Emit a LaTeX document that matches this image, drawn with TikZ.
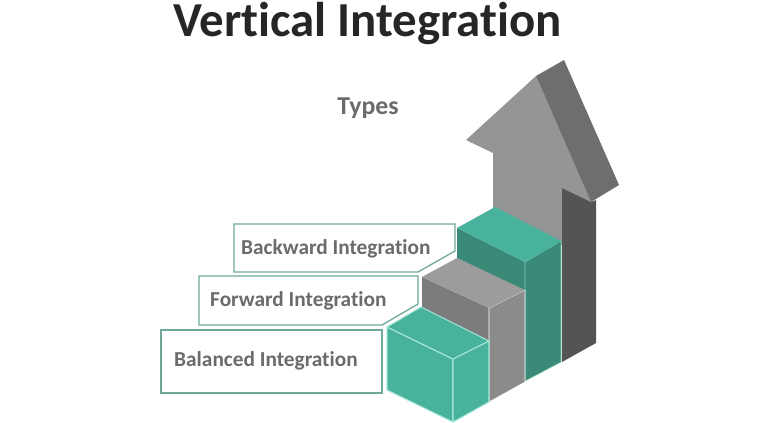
\documentclass[tikz,border=0pt]{standalone}
\usepackage{fontspec}
\setmainfont[Ligatures=NoCommon]{Carlito}
\definecolor{tealtop}{HTML}{48B29C}
\definecolor{tealdark}{HTML}{3A8A78}
\definecolor{tealedge}{HTML}{A5E8D8}
\definecolor{boxedge}{HTML}{6FA89A}
\definecolor{greytop}{HTML}{9C9C9C}
\definecolor{greyleft}{HTML}{7C7C7C}
\definecolor{greyright}{HTML}{8B8B8B}
\definecolor{arrowfront}{HTML}{949696}
\definecolor{arrowside}{HTML}{6E6E6E}
\definecolor{arrowshaft}{HTML}{545454}
\definecolor{labelgrey}{HTML}{6B6B6B}
\tikzset{
    labelbox/.style = {draw=boxedge, fill=white, line width=1.1pt},
    labeltext/.style = {text=labelgrey, font=\bfseries\fontsize{18.2}{20}\selectfont, anchor=west, inner sep=0},
    facet/.style = {draw=white, line width=0.5pt, line join=round}
}
\begin{document}
\begin{tikzpicture}[x=0.03cm, y=-0.03cm]
    \useasboundingbox (0,0) rectangle (768,422);

    \node[font=\bfseries\fontsize{41.7}{44}\selectfont, text=black!85, inner sep=0] (title) at (367.5,24) {Vertical Integration};
    \node[font=\bfseries\fontsize{22}{24}\selectfont, text=labelgrey, inner sep=0] (types) at (368,108) {Types};

    % arrow
    \fill[arrowfront] (536,76) -- (466,140) -- (493,153) -- (493,215) -- (562,245) -- (562,188) -- (591,202) -- cycle;
    \fill[arrowside] (536,76) -- (564,60) -- (619,185) -- (591,202) -- cycle;
    \fill[arrowshaft] (562,188) -- (591,202) -- (596,200) -- (596,343) -- (562,362) -- cycle;

    % label boxes
    \draw[labelbox] (234,224) -- (455,224) -- (455,251) -- (418,272) -- (234,272) -- cycle;
    \draw[labelbox] (199,276) -- (418,276) -- (418,304) -- (382,325) -- (199,325) -- cycle;
    \draw[labelbox] (161,330) -- (382,330) -- (382,393) -- (161,393) -- cycle;
    \node[labeltext] (backward) at (241,249) {Backward Integration};
    \node[labeltext] (forward) at (210,301) {Forward Integration};
    \node[labeltext] (balanced) at (174,361) {Balanced Integration};

    % top step
    \fill[tealdark] (457,228) -- (525,262) -- (525,292) -- (457,258) -- cycle;
    \draw[facet, draw=tealtop!70!white, fill=tealdark] (525,262) -- (561,241) -- (561,362) -- (525,381) -- cycle;
    \fill[tealtop] (457,228) -- (495,207) -- (561,241) -- (525,262) -- cycle;

    % middle step
    \fill[greyleft] (422,277) -- (489,308) -- (489,342) -- (422,308) -- cycle;
    \draw[facet, fill=greyright] (489,308) -- (525,290) -- (525,382) -- (489,402) -- cycle;
    \fill[greytop] (422,277) -- (457,258) -- (525,290) -- (489,308) -- cycle;

    % front step
    \draw[facet, draw=tealedge, line width=0.9pt, fill=tealtop] (387,327) -- (453,359) -- (453,422) -- (387,390) -- cycle;
    \draw[facet, draw=tealedge, line width=0.9pt, fill=tealtop] (453,359) -- (489,341) -- (489,402) -- (453,422) -- cycle;
    \draw[facet, draw=tealedge, line width=0.9pt, fill=tealtop] (387,327) -- (421,307) -- (489,341) -- (453,359) -- cycle;
\end{tikzpicture}
\end{document}
